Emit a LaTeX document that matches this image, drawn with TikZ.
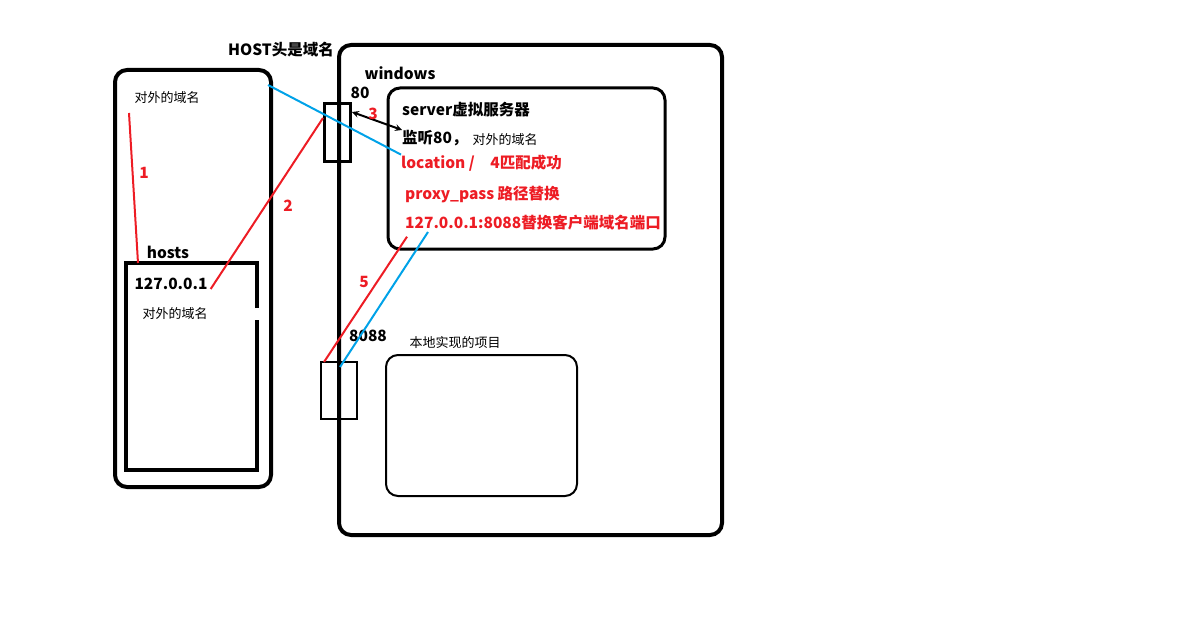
\documentclass[tikz,border=0pt]{standalone}
\usepackage{fontspec}
\setmainfont{Noto Sans CJK SC}
\usetikzlibrary{arrows,positioning}
\definecolor{pRed}{RGB}{237,28,36}
\definecolor{pBlue}{RGB}{0,162,232}
\tikzset
{
    frame/.style={draw=black, rounded corners=12pt},
    lbl/.style={font=\fontsize{15.5}{17}\selectfont\bfseries, inner sep=0pt},
    redlbl/.style={lbl, text=pRed, anchor=west},
    note/.style={font=\fontsize{13}{15}\selectfont, inner sep=0pt},
    redline/.style={draw=pRed, line width=2pt},
    blueline/.style={draw=pBlue, line width=2pt}
}
\begin{document}
\begin{tikzpicture}[x=1pt,y=-1pt]
	\useasboundingbox (0,0) rectangle (1198,636);
	% client side
	\draw [frame, line width=4pt] (115,70) rectangle (271,487);
	\draw [line width=4pt] (257,308) -- (257,263) -- (126,263) -- (126,470) -- (257,470) -- (257,320);
	\node (hosts) [lbl] at (168,252) {hosts};
	\node (dom1) [note] at (167,98) {对外的域名};
	\node (ip) [lbl] at (171,284) {127.0.0.1};
	\node (dom2) [note] at (175,314) {对外的域名};
	\coordinate (top1) at (129,113);
	\coordinate (bot1) at (138,263);
	% windows side
	\draw [frame, line width=4pt] (339,45) rectangle (722,535);
	\node (hosthdr) [lbl] at (281,50) {HOST头是域名};
	\node (win) [lbl] at (400,73) {windows};
	\draw [line width=3pt] (324,104) rectangle (350,162);
	\node (n80) [lbl] at (360,93) {80};
	\draw [frame, line width=3pt] (388,88) rectangle (665,249);
	\node (srv) [lbl] at (466,110) {server虚拟服务器};
	\node (listen) [lbl, anchor=west] at (402,138) {监听80，};
	\node (dom3) [note] at (505,140) {对外的域名};
	\node (loc) [redlbl] at (401,163) {location /\quad 4匹配成功};
	\node (proxy) [redlbl] at (405,195) {proxy\_pass 路径替换};
	\node (target) [redlbl] at (405,223) {127.0.0.1:8088替换客户端域名端口};
	\draw [line width=2pt] (321,362) rectangle (357,419);
	\node (n8088) [lbl] at (368,336) {8088};
	\node (proj) [note] at (455,343) {本地实现的项目};
	\draw [frame, line width=2pt] (386,355) rectangle (577,496);
	% connectors
	\draw [redline] (top1) -- (bot1);
	\node [lbl, text=pRed] at (144,173) {1};
	\draw [redline] (ip.east) ++(3,5) -- (323,118);
	\node [lbl, text=pRed] at (288,206) {2};
	\draw [blueline] (268,85) -- (loc.north west);
	\draw [line width=2pt, <->, >=stealth] (352,112) -- (listen.north west);
	\node [lbl, text=pRed] at (373,114) {3};
	\draw [redline] (target.south west) ++(2,6) -- (324,362);
	\draw [blueline] (428,232) -- (340,367);
	\node [lbl, text=pRed] at (364,282) {5};
\end{tikzpicture}
\end{document}
